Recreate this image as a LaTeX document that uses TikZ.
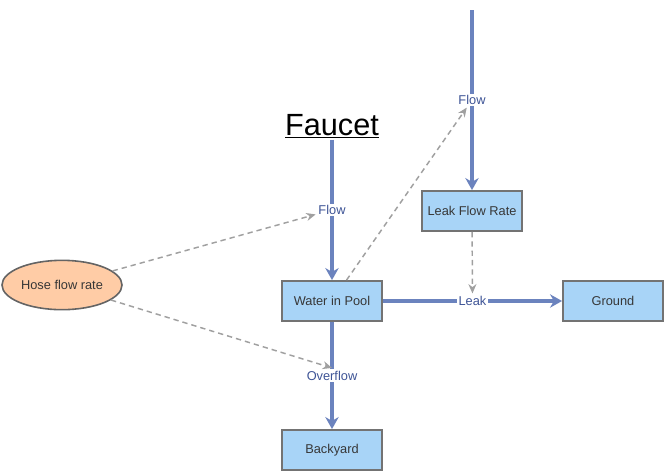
\documentclass[tikz,border=0pt]{standalone}
\usepackage{fontspec}
\setmainfont{Liberation Sans}
\usetikzlibrary{arrows.meta,positioning,shapes.geometric}
\definecolor{pipeblue}{RGB}{107,131,190}
\definecolor{labelblue}{RGB}{62,84,150}
\definecolor{stockfill}{RGB}{168,212,247}
\definecolor{stockline}{RGB}{115,115,115}
\definecolor{hosefill}{RGB}{255,204,166}
\definecolor{hoseline}{RGB}{100,100,100}
\definecolor{linkgray}{RGB}{160,160,160}
\definecolor{inkgray}{RGB}{55,55,55}

\tikzset{
    stock/.style={draw=stockline, line width=1.4pt, fill=stockfill, text=inkgray,
        minimum width=75pt, minimum height=30pt, inner sep=0pt, font=\fontsize{9.6}{11}\selectfont},
    rate/.style={ellipse, draw=hoseline, line width=1.2pt, fill=hosefill, text=inkgray,
        minimum width=90pt, minimum height=37pt, inner sep=0pt, font=\fontsize{9.6}{11}\selectfont},
    pipe/.style={pipeblue, line width=2.3pt, -{Stealth[length=9pt,width=10pt]}},
    pipelbl/.style={fill=white, text=labelblue, inner sep=1pt, font=\fontsize{9.6}{11}\selectfont},
    link/.style={linkgray, line width=1.1pt, dash pattern=on 4pt off 3pt,
        -{Stealth[length=7pt,width=6pt]}}
}

\begin{document}
\begin{tikzpicture}[x=0.75pt, y=-0.75pt]

    \useasboundingbox (0,0) rectangle (664,472);

    % Stocks
    \node[stock] (pool) at (332,301) {Water in Pool};
    \node[stock] (leakrate) at (472,211) {Leak Flow Rate};
    \node[stock] (ground) at (613,301) {Ground};
    \node[stock] (backyard) at (332,450) {Backyard};

    % Source
    \node[font=\fontsize{23}{25}\selectfont, inner sep=1pt] (faucet) at (332,126) {\underline{Faucet}};
    \coordinate (top) at (472,10);

    % Converter
    \node[rate] (hose) at (62,285) {Hose flow rate};

    % Flows
    \draw[pipe] (faucet) -- node[pipelbl] (flowlbl) {Flow} (pool);
    \draw[pipe] (top) -- node[pipelbl] (flowtop) {Flow} (leakrate);
    \draw[pipe] (pool) -- node[pipelbl] (leaklbl) {Leak} (ground);
    \draw[pipe] (pool) -- node[pipelbl] (overflowlbl) {Overflow} (backyard);

    % Links
    \draw[link] (hose) -- (flowlbl);
    \draw[link] (hose) -- (overflowlbl.north);
    \draw[link] (pool) -- (flowtop);
    \draw[link] (leakrate) -- (leaklbl);

\end{tikzpicture}
\end{document}
